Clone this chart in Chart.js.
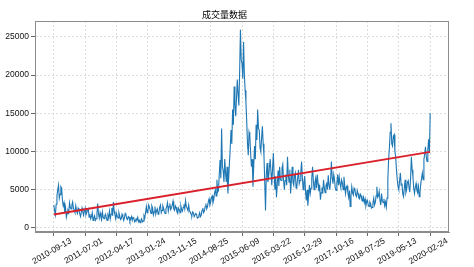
<!DOCTYPE html>
<html>
<head>
<meta charset="utf-8">
<script src="https://cdn.jsdelivr.net/npm/chart.js@4.4.1/dist/chart.umd.min.js"></script>
<style>
  html, body { margin: 0; padding: 0; background: #fff; }
</style>
</head>
<body>
<canvas id="volumeChart" width="474" height="267"></canvas>
<script>
// 成交量 (one value every 5 trading days)
const volStep = 5;
const volumeValues = [
    3000, 2200, 1700, 3100, 4200, 5000, 5600, 3900, 4400, 5400,
    5200, 3600, 2900, 3300, 2000, 2600, 1400, 1900, 2300, 2000,
    3300, 2700, 2500, 3000, 3400, 2600, 2300, 2000, 2900, 2200,
    1900, 2600, 2400, 1900, 1500, 2000, 2600, 2100, 1700, 2200,
    2600, 1700, 2000, 2300, 2500, 1400, 1800, 1200, 1500, 2000,
    1000, 1300, 1600, 1000, 1200, 1900, 3200, 1800, 1300, 2000,
    1500, 1100, 2100, 1400, 1200, 1600, 1800, 1300, 1000, 1700,
    1400, 2200, 1200, 1800, 2600, 1600, 3400, 2200, 1700, 1200,
    1900, 1500, 1300, 2000, 1600, 1100, 1200, 1800, 1500, 1000,
    1300, 1900, 1700, 1200, 1100, 1500, 1400, 900, 1200, 1500,
    1000, 1400, 1300, 800, 900, 1200, 1100, 1400, 800, 1000,
    700, 1000, 1200, 800, 900, 1600, 1300, 2000, 2800, 2000,
    2200, 3000, 2700, 2300, 1900, 2900, 2600, 1700, 2100, 2800,
    1800, 2300, 2500, 1800, 2000, 2700, 3000, 2000, 2300, 2900,
    2600, 2100, 1900, 2500, 2800, 3300, 2200, 2800, 3200, 2400,
    2600, 3000, 3500, 2500, 2300, 2900, 2700, 2100, 1900, 2600,
    2400, 2000, 2900, 2400, 2200, 2700, 3100, 2500, 3600, 2800,
    2600, 2300, 3000, 2200, 2100, 1800, 1600, 2100, 2000, 1500,
    1500, 1900, 1800, 1300, 1400, 1700, 2000, 1500, 1700, 2300,
    2600, 2000, 2200, 2800, 3200, 2500, 2800, 3400, 3800, 3000,
    3300, 4000, 4200, 3300, 3700, 4600, 5000, 4200, 6300, 4700,
    4900, 7000, 8900, 6500, 13000, 8000, 7500, 6000, 9000, 7200,
    6000, 8000, 4500, 6500, 8500, 10500, 12800, 11000, 15500, 13500,
    18500, 16000, 14600, 17000, 19400, 17500, 16000, 20500, 25900, 22000,
    21500, 19500, 24300, 20000, 18000, 16500, 14000, 11000, 9500, 12500,
    12000, 9800, 8000, 9000, 5400, 8200, 10700, 9000, 13500, 11500,
    15500, 13000, 12800, 10500, 10000, 11800, 13300, 11000, 9500, 6000,
    2300, 7000, 8500, 6000, 6700, 8000, 9000, 7200, 5600, 7800,
    9800, 6800, 5000, 6500, 4000, 5800, 7500, 5500, 8000, 6300,
    6200, 7800, 8300, 6300, 5000, 6200, 7000, 5600, 9300, 7000,
    6000, 7600, 4500, 6200, 8000, 6000, 5600, 6800, 7200, 5200,
    5500, 6600, 7600, 5800, 6200, 7300, 8700, 6500, 5000, 6000,
    6800, 4800, 3600, 5000, 2900, 4300, 5600, 4500, 5200, 6500,
    8000, 6200, 5000, 5900, 6500, 5200, 7000, 5800, 4800, 5600,
    3700, 4600, 5300, 4500, 6300, 5200, 4600, 5500, 5800, 5000,
    6900, 5600, 5000, 6200, 8700, 6600, 5800, 7000, 6300, 5200,
    4900, 5800, 7000, 5600, 6700, 5800, 5300, 6300, 5900, 5000,
    6700, 5600, 4500, 5300, 5500, 4600, 4000, 4900, 2800, 4200,
    5400, 4600, 4300, 5200, 5000, 4300, 4100, 4900, 4500, 3900,
    3800, 4400, 4200, 3600, 3500, 4000, 3300, 3800, 2900, 3400,
    3600, 3000, 2800, 3400, 3200, 2600, 2700, 3300, 3900, 3000,
    3300, 4200, 5400, 4000, 4200, 4800, 3600, 3000, 4500, 3500,
    3300, 3800, 2900, 3400, 2700, 3900, 6300, 9000, 10500, 12500,
    13700, 11000, 10700, 12000, 12200, 10000, 9300, 7600, 6300, 5400,
    5000, 6200, 7200, 5600, 5800, 4500, 4100, 5200, 6300, 4600,
    5000, 6000, 6200, 5300, 4700, 6500, 9300, 7600, 6700, 5200,
    4500, 5300, 5800, 4900, 4600, 5400, 4100, 4700, 5800, 6500,
    7200, 6300, 8900, 9700, 10600, 9300, 8700, 10200, 11600, 9800,
    15000
];

// 趋势线 (start / end)
const trendPos = [0, 2400];
const trendValues = [1760, 9950];

const xTickPos = [0, 200, 400, 600, 800, 1000, 1200, 1400, 1600, 1800, 2000, 2200, 2400];
const xTickLabels = [
    '2010-09-13', '2011-07-01', '2012-04-17', '2013-01-24', '2013-11-15',
    '2014-08-25', '2015-06-09', '2016-03-22', '2016-12-29', '2017-10-16',
    '2018-07-25', '2019-05-13', '2020-02-24'
];
const yTickValues = [0, 5000, 10000, 15000, 20000, 25000];

// 四边边框
const framePlugin = {
    id: 'frame',
    afterDatasetsDraw(chart) {
        const { ctx, chartArea: a } = chart;
        ctx.save();
        ctx.strokeStyle = '#8c8c8c';
        ctx.lineWidth = 1;
        ctx.strokeRect(a.left + 0.5, a.top + 0.5, a.right - a.left - 1, a.bottom - a.top - 1);
        ctx.restore();
    }
};

const tickFont = { family: 'Liberation Sans', size: 8.5 };

new Chart(document.getElementById('volumeChart'), {
    type: 'line',
    data: {
        datasets: [
            {
                label: 'trend',
                data: trendPos.map((p, i) => ({ x: p, y: trendValues[i] })),
                borderColor: '#d9202b',
                borderWidth: 2,
                pointRadius: 0
            },
            {
                label: 'volume',
                data: volumeValues.map((v, i) => ({ x: i * volStep, y: v })),
                borderColor: '#1f77b4',
                borderWidth: 1.1,
                pointRadius: 0,
                tension: 0
            }
        ]
    },
    options: {
        responsive: false,
        devicePixelRatio: 1,
        animation: false,
        layout: { padding: { left: 0, right: 25, top: 0, bottom: 0 } },
        plugins: {
            legend: { display: false },
            tooltip: { enabled: false },
            title: {
                display: true,
                text: '成交量数据',
                color: '#000',
                font: { family: 'Noto Sans CJK SC', size: 9, weight: 'normal' },
                padding: { top: 9, bottom: 1.2 }
            }
        },
        scales: {
            x: {
                type: 'linear',
                min: -120,
                max: 2520,
                afterBuildTicks: s => { s.ticks = xTickPos.map(v => ({ value: v })); },
                afterFit: s => { s.height = 35; s.paddingLeft = 0; s.paddingRight = 0; },
                ticks: {
                    autoSkip: false,
                    minRotation: 30,
                    maxRotation: 30,
                    labelOffset: 17,
                    padding: 0,
                    color: '#111',
                    font: tickFont,
                    callback: v => xTickLabels[xTickPos.indexOf(v)]
                },
                grid: { color: '#d4d4d4', lineWidth: 0.8, tickLength: 4, tickColor: '#444' },
                border: { display: true, color: '#8c8c8c', dash: [2, 2] }
            },
            y: {
                min: -525,
                max: 27060,
                afterBuildTicks: s => { s.ticks = yTickValues.map(v => ({ value: v })); },
                afterFit: s => { s.width = 35; },
                ticks: { padding: 2, color: '#111', font: tickFont, callback: v => String(v) },
                grid: { color: '#d4d4d4', lineWidth: 0.8, tickLength: 4, tickColor: '#444' },
                border: { display: true, color: '#8c8c8c', dash: [2, 2] }
            }
        }
    },
    plugins: [framePlugin]
});
</script>
</body>
</html>
